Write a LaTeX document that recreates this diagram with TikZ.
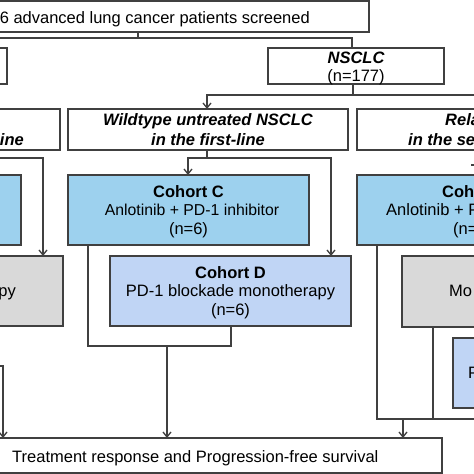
\documentclass[tikz,border=0pt]{standalone}
\usepackage{fontspec}
\setmainfont{Liberation Sans}
\usetikzlibrary{arrows.meta}
\definecolor{linec}{HTML}{404040}
\definecolor{blueC}{HTML}{9DD1EE}
\definecolor{blueD}{HTML}{C0D5F5}
\definecolor{grayB}{HTML}{D9D9D9}
\newcommand\myfs{\fontsize{16.5}{18.5}\selectfont}
\newcommand\myfss{\fontsize{15.8}{18.5}\selectfont}
\begin{document}
\begin{tikzpicture}[x=1pt,y=-1pt,
  box/.style={draw=linec, line width=1.3pt, rectangle, inner sep=0pt, outer sep=0pt, fill=white},
  lbl/.style={inner sep=0pt, font=\myfs, text=black, anchor=base},
  bi/.style={lbl, font=\myfs\bfseries\itshape},
  bo/.style={lbl, font=\myfs\bfseries},
  conn/.style={draw=linec, line width=1.3pt},
  arr/.style={conn, -{Straight Barb[length=5pt,width=8pt]}}]
\useasboundingbox (0,0) rectangle (474,474);
\clip (0,0) rectangle (474,474);
\fill[white] (0,0) rectangle (474,474);

% boxes
\node[box, minimum width=429pt, minimum height=31pt] (top) at (154.5,16.5) {};
\node[box, minimum width=107pt, minimum height=36pt] (leftA) at (-46.5,66) {};
\node[box, minimum width=176pt, minimum height=36pt] (nsclc) at (356,66) {};
\node[box, minimum width=260pt, minimum height=41pt] (leftB) at (-70,129.5) {};
\node[box, minimum width=280pt, minimum height=41pt] (wild) at (208,129.5) {};
\node[box, minimum width=243pt, minimum height=41pt] (rela) at (478.5,129.5) {};
\node[box, fill=blueC, minimum width=221pt, minimum height=70pt] (leftC) at (-89.5,210) {};
\node[box, fill=blueC, minimum width=241pt, minimum height=70pt] (cohC) at (188.5,210) {};
\node[box, fill=blueC, minimum width=243pt, minimum height=70pt] (cohE) at (478.5,210) {};
\node[box, fill=grayB, minimum width=263pt, minimum height=70pt] (leftGray) at (-68.5,291) {};
\node[box, fill=blueD, minimum width=241pt, minimum height=70pt] (cohD) at (230.5,291) {};
\node[box, fill=grayB, minimum width=248pt, minimum height=71pt] (rightGray) at (526,291.5) {};
\node[box, fill=blueD, minimum width=247pt, minimum height=70pt] (cohF) at (576.5,373) {};
\node[box, minimum width=542pt, minimum height=35pt] (treat) at (171,455.5) {};

% texts
\node[lbl, anchor=base east] (t1) at (310,23) {6 advanced lung cancer patients screened};
\node[bi] (t2) at (356,63) {NSCLC};
\node[lbl] (t3) at (356,81) {(n=177)};
\node[bi, anchor=base east] (t4) at (24,145.5) {ine};
\node[bi] (t5) at (208,125) {Wildtype untreated NSCLC};
\node[bi] (t6) at (208,145.5) {in the first-line};
\node[bi, anchor=base west] (t7) at (445,125) {Rela};
\node[bi, anchor=base west] (t8) at (408,145.5) {in the se};
\node[bo] (t9) at (188.5,197) {Cohort C};
\node[lbl, font=\myfss] (t10) at (192,215.5) {Anlotinib + PD-1 inhibitor};
\node[lbl] (t11) at (188.5,234) {(n=6)};
\node[bo, anchor=base west] (t12) at (442,197) {Coh};
\node[lbl, anchor=base west] (t13) at (386,215.5) {Anlotinib + P};
\node[lbl, anchor=base west] (t14) at (453,234) {(n=};
\node[lbl, anchor=base east] (t15) at (16,296.5) {py};
\node[bo] (t16) at (230.5,278) {Cohort D};
\node[lbl] (t17) at (230.5,296.5) {PD-1 blockade monotherapy};
\node[lbl] (t18) at (230.5,315) {(n=6)};
\node[lbl, anchor=base west] (t19) at (449,296.5) {Mo};
\node[lbl, anchor=base west] (t20) at (468,378.5) {P};
\node[lbl, anchor=base west] (t21) at (12,462) {Treatment response and Progression-free survival};

% connectors
\coordinate (j1) at (138,38);
\coordinate (j1l) at (-20,38);
\coordinate (j1r) at (352,38);
\draw[conn] (top.south -| j1) -- (j1);
\draw[conn] (leftA.north -| j1l) -- (j1l) -- (j1r) -- (nsclc.north -| j1r);

\coordinate (j2) at (353,95);
\coordinate (j2l) at (207,95);
\coordinate (j2r) at (520,95);
\draw[conn] (nsclc.south -| j2) -- (j2);
\draw[arr] (j2r) -- (j2l) -- (wild.north -| j2l);
\draw[arr] (j2r) -- (rela.north -| j2r);

\coordinate (j3) at (207,158);
\coordinate (j3l) at (188,158);
\coordinate (j3r) at (331,158);
\draw[conn] (wild.south -| j3) -- (j3);
\draw[arr] (j3) -- (j3l) -- (cohC.north -| j3l);
\draw[arr] (j3) -- (j3r) -- (cohD.north -| j3r);

\coordinate (j4) at (43,158);
\coordinate (j4l) at (-30,158);
\draw[arr] (leftB.south -| j4l) -- (j4l) -- (j4) -- (leftGray.north -| j4);

\coordinate (j5) at (471,165);
\coordinate (j5r) at (620,165);
\draw[conn] (rela.south -| j5r) -- (j5r) -- (j5);

\coordinate (k1) at (88,346);
\coordinate (k2) at (231,346);
\coordinate (k3) at (167,346);
\draw[conn] (cohC.south -| k1) -- (k1) -- (k2) -- (cohD.south -| k2);
\draw[arr] (k3) -- (treat.north -| k3);

\coordinate (k4) at (3,366);
\coordinate (k4l) at (-30,366);
\draw[arr] (leftGray.south -| k4l) -- (k4l) -- (k4) -- (treat.north -| k4);

\coordinate (m1) at (377,419);
\coordinate (m2) at (433,419);
\coordinate (m3) at (403,419);
\coordinate (m4) at (520,419);
\draw[conn] (cohE.south -| m1) -- (m1) -- (m4) -- (cohF.south -| m4);
\draw[conn] (rightGray.south -| m2) -- (m2);
\draw[arr] (m3) -- (treat.north -| m3);
\end{tikzpicture}
\end{document}
